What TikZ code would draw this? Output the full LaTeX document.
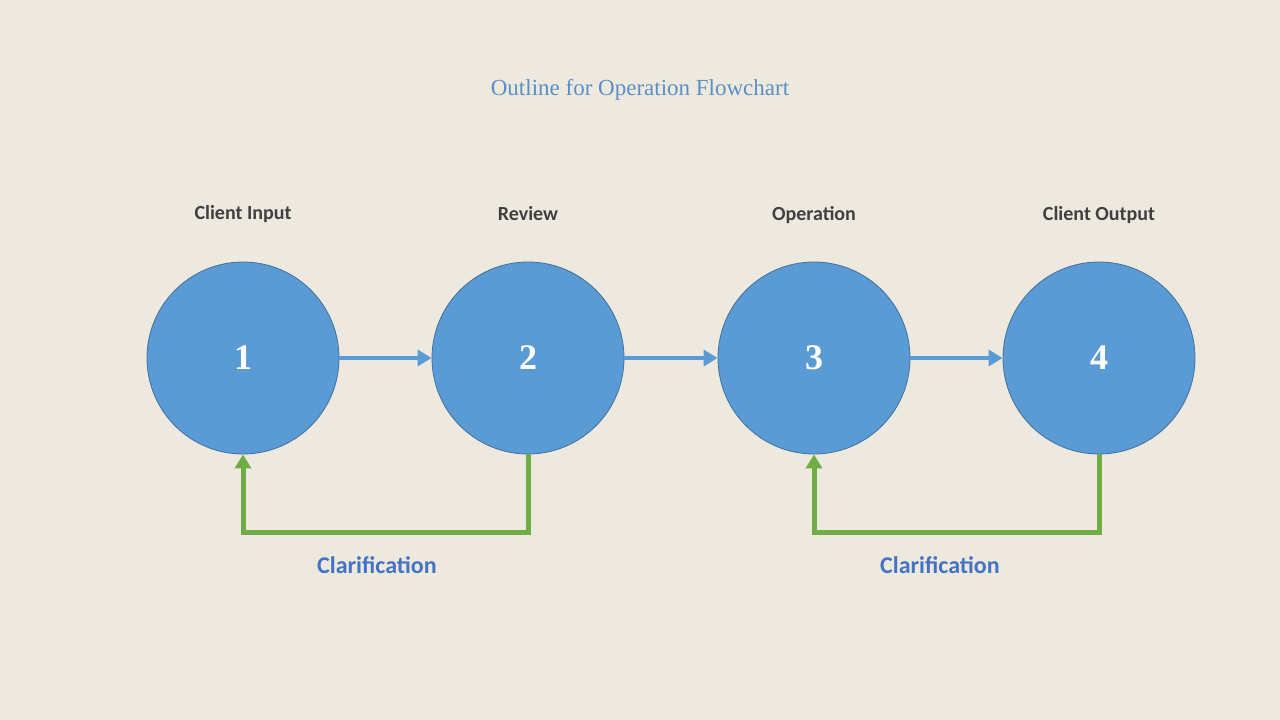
\documentclass[tikz,border=0pt]{standalone}
\usepackage{fontspec}
\setmainfont{Liberation Serif}
\newfontfamily\carlitofont{Carlito}
\usetikzlibrary{arrows.meta}
\definecolor{bg}{HTML}{EEE9DF}
\definecolor{cblue}{HTML}{5B9BD5}
\definecolor{cedge}{HTML}{41719C}
\definecolor{cgreen}{HTML}{70AD47}
\definecolor{ttl}{HTML}{5B8FC7}
\definecolor{lbl}{HTML}{404040}
\definecolor{clar}{HTML}{4472C4}
\begin{document}
\begin{tikzpicture}[x=1pt,y=-1pt,
  stage/.style={circle,fill=cblue,draw=cedge,line width=0.8pt,minimum size=192pt,inner sep=0pt,text=white,font=\fontsize{36}{36}\selectfont\bfseries},
  caplabel/.style={text=lbl,font=\carlitofont\fontsize{20}{20}\selectfont\bfseries},
  flow/.style={draw=cblue,line width=4pt,-{Triangle[length=14pt,width=16pt]}},
  back/.style={draw=cgreen,line width=5pt,-{Triangle[length=14pt,width=16pt]}},
  clarl/.style={text=clar,font=\carlitofont\fontsize{24}{24}\selectfont\bfseries}]
\fill[bg] (0,0) rectangle (1280,720);
\useasboundingbox (0,0) rectangle (1280,720);
\node[text=ttl,font=\fontsize{23}{23}\selectfont] (title) at (640,90) {Outline for Operation Flowchart};
\node[stage] (s1) at (243,358) {1};
\node[stage] (s2) at (528,358) {2};
\node[stage] (s3) at (814,358) {3};
\node[stage] (s4) at (1099,358) {4};
\node[caplabel] (l1) at (243,214) {Client Input};
\node[caplabel] (l2) at (528,214) {Review};
\node[caplabel] (l3) at (814,215) {Operation};
\node[caplabel] (l4) at (1099,215) {Client Output};
\draw[flow] (s1) -- (s2);
\draw[flow] (s2) -- (s3);
\draw[flow] (s3) -- (s4);
\draw[back] (s2.south) -- ++(0,78) -| (s1.south);
\draw[back] (s4.south) -- ++(0,78) -| (s3.south);
\node[clarl] (c1) at (377,565) {Clarification};
\node[clarl] (c2) at (940,565) {Clarification};
\end{tikzpicture}
\end{document}
